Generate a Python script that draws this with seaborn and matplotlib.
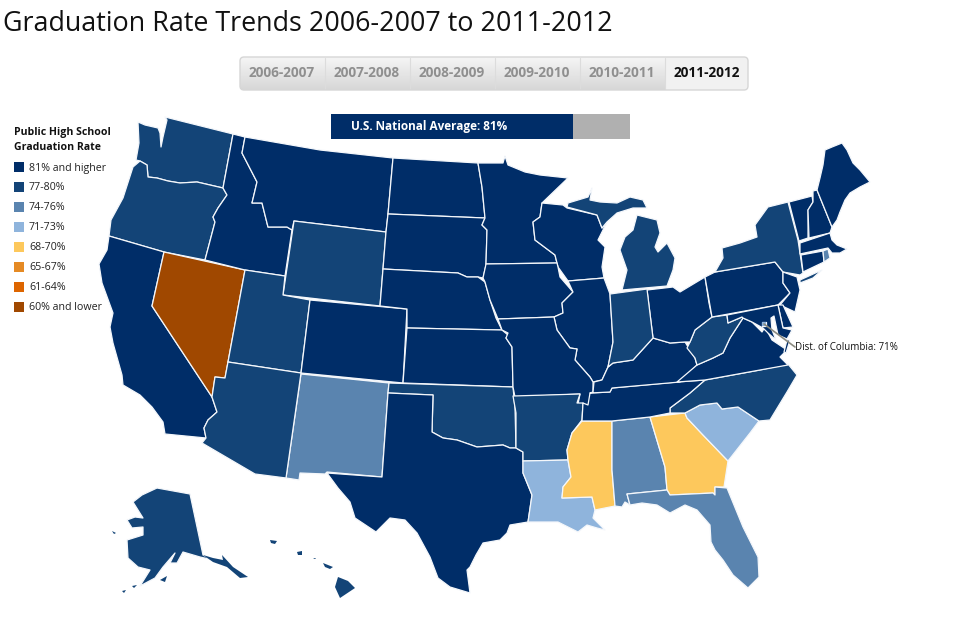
import numpy as np
import pandas as pd
import seaborn as sns
import matplotlib
matplotlib.use("Agg")
import matplotlib.pyplot as plt
from matplotlib.patches import Polygon, FancyBboxPatch

# legend bins and their colours
bin_labels = ["81% and higher", "77-80%", "74-76%", "71-73%", "68-70%", "65-67%", "61-64%", "60% and lower"]
bin_colors = ["#002d68", "#134477", "#5a84af", "#8fb4dc", "#fdc85c", "#e58a24", "#dd6500", "#a04800"]

# which state falls in which bin (2011-2012)
top_states = ["CA", "ID", "MT", "ND", "SD", "NE", "KS", "CO", "TX", "MN", "WI", "IA", "IL", "MO",
              "OH", "PA", "NJ", "DE", "MD", "VA", "VAE", "KY", "TN", "VT", "NH", "ME", "MA", "CT"]
second_states = ["WA", "OR", "WY", "UT", "AZ", "OK", "AR", "MIU", "MIL", "IN", "WV", "NC", "NY", "LI", "AK"]
third_states = ["NM", "AL", "FL", "RI"]
fourth_states = ["LA", "SC", "DC"]
fifth_states = ["MS", "GA"]
eighth_states = ["NV"]

years = ["2006-2007", "2007-2008", "2008-2009", "2009-2010", "2010-2011", "2011-2012"]
national_avg = 81

# state outlines, traced in pixels of the 976x620 picture
shapes = {
    "WA": [(165,117),(233,134),(223,188),(197,182),(180,183),(168,181),(157,178),(148,177),(147,165),(140,161),(136,160),
           (139,143),(138,122),(145,125),(158,128),(160,133),(161,147),(163,137),(167,120)],
    "OR": [(140,161),(147,165),(148,177),(157,178),(168,181),(180,183),(197,182),(223,188),(227,195),(218,208),(213,217),
           (215,222),(205,260),(164,252),(109,236),(111,220),(123,198),(133,167)],
    "CA": [(109,236),(164,252),(152,306),(212,397),(217,412),(208,420),(204,428),(206,438),(165,434),(163,422),(152,407),
           (140,395),(123,385),(122,375),(113,343),(110,327),(113,313),(102,283),(99,264),(107,250)],
    "NV": [(164,252),(245,270),(228,362),(225,378),(215,377),(212,397),(152,306)],
    "ID": [(233,134),(245,137),(242,153),(257,182),(252,203),(262,203),(268,227),(287,227),(292,230),(285,276),(245,270),
           (205,260),(215,222),(213,217),(218,208),(227,195),(223,188)],
    "MT": [(245,137),(320,150),(393,158),(388,214),(386,232),(294,221),(292,230),(287,227),(268,227),(262,203),(252,203),
           (257,182),(242,153)],
    "WY": [(294,221),(386,232),(380,306),(283,295)],
    "UT": [(245,270),(285,276),(283,295),(310,300),(301,373),(228,362)],
    "CO": [(310,300),(407,309),(403,383),(301,373)],
    "NM": [(301,374),(389,383),(388,393),(382,477),(327,472),(325,474),(300,473),(299,480),(286,478)],
    "AZ": [(228,362),(301,373),(286,478),(255,474),(202,443),(206,438),(204,428),(208,420),(217,412),(212,397),(215,377),(225,378)],
    "ND": [(393,158),(478,163),(482,187),(485,218),(388,214)],
    "SD": [(388,214),(485,218),(482,225),(487,230),(486,265),(483,278),(478,277),(467,277),(458,273),(383,269),(386,232)],
    "NE": [(383,269),(458,273),(467,277),(478,277),(485,282),(490,300),(496,318),(502,330),(407,328),(407,309),(380,306)],
    "KS": [(407,328),(502,330),(508,335),(506,338),(512,347),(513,387),(403,383)],
    "OK": [(389,383),(513,387),(515,408),(516,448),(510,448),(503,445),(477,447),(457,440),(443,438),(432,432),(433,395),(388,393)],
    "TX": [(388,393),(433,395),(432,432),(443,438),(457,440),(477,447),(503,445),(510,448),(516,448),(523,452),(523,473),
           (532,495),(528,522),(510,525),(507,533),(500,540),(483,543),(476,555),(470,567),(467,570),(470,593),(450,587),
           (438,578),(430,557),(417,533),(405,520),(390,518),(376,532),(355,518),(350,502),(338,488),(327,473),(382,477)],
    "MN": [(478,163),(503,163),(505,156),(508,165),(525,172),(540,175),(568,178),(542,203),(540,217),(533,222),(535,240),
           (555,255),(557,263),(486,264),(487,230),(482,225),(485,218),(482,187)],
    "WI": [(542,203),(563,205),(567,208),(597,215),(602,228),(607,222),(598,240),(605,247),(602,267),(604,278),(568,281),
           (558,267),(557,263),(555,255),(535,240),(533,222),(540,217)],
    "MIU": [(567,207),(568,203),(588,197),(592,188),(590,200),(600,202),(617,203),(630,197),(643,200),(647,208),(633,208),
            (617,213),(607,222),(602,228),(597,215)],
    "MIL": [(637,215),(657,220),(660,233),(655,247),(658,252),(667,243),(675,258),(673,270),(667,286),(622,290),(627,270),
            (620,250),(625,237),(633,230)],
    "IA": [(486,264),(557,263),(558,267),(560,277),(573,292),(562,303),(563,313),(554,317),(498,319),(490,300),(485,282),(483,278)],
    "IL": [(568,281),(604,278),(610,294),(613,342),(608,367),(602,380),(593,382),(590,377),(575,360),(577,349),(570,348),
           (557,330),(554,317),(563,313),(562,303),(573,292)],
    "MO": [(498,319),(554,317),(557,330),(570,348),(577,349),(575,360),(590,377),(593,382),(593,392),(588,405),(578,404),
           (580,394),(515,397),(513,387),(512,347),(506,338),(508,333),(502,330)],
    "AR": [(513,396),(580,394),(577,403),(583,403),(582,420),(572,433),(567,450),(568,460),(523,461),(523,452),(516,448),(516,413)],
    "LA": [(523,461),(568,460),(571,477),(563,487),(562,498),(592,497),(595,510),(593,518),(605,530),(597,528),(587,525),
           (578,532),(558,522),(528,522),(532,495),(523,473)],
    "MS": [(582,421),(612,421),(612,470),(615,506),(595,510),(592,497),(562,498),(563,487),(571,477),(568,460),(567,450),(572,433)],
    "AL": [(612,421),(650,417),(665,467),(667,490),(627,494),(630,505),(625,502),(622,507),(615,506),(612,470)],
    "GA": [(650,417),(685,413),(687,418),(703,435),(728,461),(724,487),(715,487),(715,495),(713,493),(670,495),(667,490),(665,467)],
    "FL": [(627,494),(667,490),(670,495),(713,493),(715,495),(715,487),(727,488),(743,527),(758,557),(759,577),(748,588),
           (733,575),(723,560),(715,550),(711,542),(710,525),(697,510),(685,505),(670,513),(657,505),(642,503),(630,505)],
    "SC": [(685,413),(700,405),(717,403),(722,409),(738,407),(759,421),(750,433),(728,461),(703,435),(687,418)],
    "NC": [(705,380),(760,370),(788,364),(797,375),(787,392),(770,420),(759,421),(738,407),(722,409),(717,403),(700,405),
           (685,413),(670,413),(670,408),(690,393)],
    "TN": [(590,393),(610,392),(612,388),(677,382),(705,380),(690,393),(670,408),(670,413),(650,417),(612,421),(582,421),
           (583,403),(588,405)],
    "KY": [(593,392),(594,382),(602,380),(608,367),(613,363),(633,360),(653,338),(670,343),(685,342),(695,358),(697,365),
           (680,382),(612,388),(610,392),(590,393)],
    "VA": [(677,382),(697,365),(713,358),(723,353),(730,338),(743,318),(752,322),(762,332),(765,327),(772,340),(787,350),
           (780,357),(788,365),(760,370),(705,380)],
    "VAE": [(787,340),(790,340),(786,353),(784,352)],
    "WV": [(687,348),(690,342),(695,330),(708,320),(712,317),(727,315),(728,323),(742,317),
           (743,318),(730,338),(723,353),(713,358),(697,365),(695,358)],
    "OH": [(647,290),(673,287),(680,292),(705,277),(709,303),(712,317),(708,320),(695,330),(690,342),(685,342),(670,343),
           (653,338)],
    "IN": [(610,294),(647,289),(653,338),(633,360),(613,363),(608,367),(613,342)],
    "PA": [(705,277),(715,272),(775,262),(783,272),(783,283),(790,293),(778,305),(712,317)],
    "NY": [(715,272),(723,258),(722,248),(740,243),(757,237),(755,225),(768,207),(788,202),(798,240),(803,273),(800,275),
           (783,272),(775,262)],
    "LI": [(800,280),(822,270),(813,278),(800,283)],
    "NJ": [(783,272),(797,277),(800,290),(795,312),(780,305),(790,293),(783,283)],
    "DE": [(778,305),(783,305),(793,327),(783,328)],
    "MD": [(727,315),(778,305),(783,328),(792,330),(787,339),(778,335),(774,316),(771,318),(772,330),(776,340),(768,333),
           (763,328),(752,322),(743,318),(742,317),(728,323)],
    "DC": [(762,322),(766,322),(766,326),(762,326)],
    "VT": [(789,202),(812,196),(813,202),(808,210),(808,238),(799,241)],
    "NH": [(813,191),(817,190),(832,227),(830,233),(809,238),(808,210),(813,202)],
    "ME": [(817,190),(820,178),(823,165),(825,150),(832,147),(842,143),(847,150),(853,163),(860,170),(870,182),(860,187),
           (850,193),(845,200),(840,212),(837,220),(832,227)],
    "MA": [(800,243),(830,233),(832,240),(837,245),(847,249),(840,253),(832,253),(828,248),(800,254)],
    "CT": [(801,255),(823,251),(824,262),(803,272)],
    "RI": [(823,251),(828,249),(830,258),(824,262)],
    "AK": [(157,488),(190,494),(203,555),(213,560),(200,557),(183,552),(177,563),(170,563),(175,553),(163,567),
           (155,578),(140,586),(150,570),(138,567),(128,558),(127,540),(143,535),(143,527),(132,528),(127,520),(135,517),
           (143,518),(133,502),(142,495)],
}

# islands, panhandle and such: same colour as their state, no white border
islands = [
    [(203,555),(213,558),(223,560),(222,555),(233,567),(248,577),(240,578),(227,567),(213,562)],
    [(160,580),(167,576),(165,582)],
    [(122,591),(126,590),(124,593)],
    [(132,586),(137,585),(134,588)],
    [(112,531),(116,533),(114,534)],
    [(338,577),(348,581),(355,588),(340,598),(335,587)],
    [(323,563),(333,567),(330,569),(325,567)],
    [(297,552),(302,551),(302,555),(298,555)],
    [(270,540),(277,541),(275,544),(271,543)],
    [(313,558),(316,558),(315,559)],
]

state_bins = {}
for b, group in [(0, top_states), (1, second_states), (2, third_states), (3, fourth_states), (4, fifth_states), (7, eighth_states)]:
    for s in group:
        state_bins[s] = b

sns.set_theme(style="white")
plt.rcParams["font.family"] = ["Open Sans", "DejaVu Sans"]

fig, ax = plt.subplots(figsize=(9.76, 6.2), dpi=100)
ax.set_position([0, 0, 1, 1])

# the map
for name, pts in shapes.items():
    ax.add_patch(Polygon(pts, closed=True, facecolor=bin_colors[state_bins[name]],
                         edgecolor="#f4f7fb", linewidth=0.9, joinstyle="round"))
for pts in islands:
    ax.add_patch(Polygon(pts, closed=True, facecolor=bin_colors[1], edgecolor="none"))
ax.plot([764, 795], [324, 347], color="#8a8a80", lw=1.2)
ax.add_patch(Polygon(shapes["DC"], closed=True, facecolor=bin_colors[3], edgecolor="none"))

# legend swatches
legend_df = pd.DataFrame({"label": bin_labels, "x": 19, "y": [167 + 20 * i for i in range(len(bin_labels))]})
sns.scatterplot(data=legend_df, x="x", y="y", hue="label", palette=bin_colors, hue_order=bin_labels,
                marker="s", s=58, linewidth=0, legend=False, ax=ax)
for _, row in legend_df.iterrows():
    ax.text(29, row["y"] + 1, row["label"], fontsize=7.7, color="#222222", va="center")
ax.text(14, 132, "Public High School", fontsize=7.6, fontweight="bold", color="#111111", va="center")
ax.text(14, 147, "Graduation Rate", fontsize=7.6, fontweight="bold", color="#111111", va="center")

ax.text(3, 24, "Graduation Rate Trends 2006-2007 to 2011-2012", fontsize=19.4, color="#111111", va="center")
ax.text(795, 347, "Dist. of Columbia: 71%", fontsize=7, color="#111111", va="center")

# year tabs
tab_box = FancyBboxPatch((240, 57), 508, 33, boxstyle="round,pad=0,rounding_size=4",
                         facecolor="none", edgecolor="#d6d6d6", linewidth=1, zorder=3)
ax.add_patch(tab_box)
grad = np.linspace(0.96, 0.84, 40).reshape(-1, 1)
im = ax.imshow(grad, extent=(240, 665, 90, 57), cmap="gray", vmin=0, vmax=1, aspect="auto", zorder=1)
im.set_clip_path(tab_box)
active = ax.fill_between([665, 748], 57, 90, color="#f1f1f1", lw=0, zorder=1)
active.set_clip_path(tab_box)
for i, yr in enumerate(years):
    left = 240 + 85 * i
    if i > 0:
        ax.plot([left, left], [58, 89], color="#dcdcdc", lw=0.8, zorder=2)
    ax.text(left + 42, 73, yr, fontsize=9.8, fontweight="bold", ha="center", va="center", zorder=4,
            color="#111111" if i == len(years) - 1 else "#8f8f8f")

ax.set_xlim(0, 976)
ax.set_ylim(620, 0)
ax.set_xlabel("")
ax.set_ylabel("")
ax.axis("off")

# national average bar
bar_ax = fig.add_axes([331 / 976, 1 - 139 / 620, 299 / 976, 25 / 620])
sns.barplot(x=[100], y=["avg"], color="#b0b0b0", width=1, saturation=1, ax=bar_ax)
sns.barplot(x=[national_avg], y=["avg"], color="#002d68", width=1, saturation=1, ax=bar_ax)
bar_ax.set_xlim(0, 100)
bar_ax.axis("off")
for p in bar_ax.patches:
    p.set_linewidth(0)
bar_ax.text(20 / 299 * 100, 0, "U.S. National Average: %d%%" % national_avg, color="white", fontsize=8.5,
            fontweight="bold", va="center")

fig.savefig("out.png", dpi=100)
